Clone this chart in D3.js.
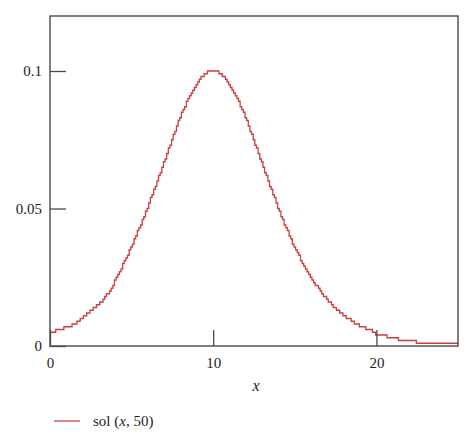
<!DOCTYPE html>
<html>
<head>
<meta charset="utf-8">
<script src="https://cdn.jsdelivr.net/npm/d3@7"></script>
<style>
  html, body { margin: 0; padding: 0; background: #fff; }
  svg text { font-family: "Liberation Serif", "DejaVu Serif", serif; fill: #222; }
</style>
</head>
<body>
<svg id="chart" width="474" height="447"></svg>
<script>
const xStart = 0;
const xStep = 0.1;
const solValues = [
  // x = 0.0 .. 10.0
  0.005, 0.005, 0.005, 0.005, 0.006, 0.006, 0.006, 0.006, 0.006, 0.007,
  0.007, 0.007, 0.007, 0.007, 0.008, 0.008, 0.008, 0.009, 0.009, 0.010,
  0.010, 0.011, 0.011, 0.012, 0.012, 0.013, 0.013, 0.014, 0.014, 0.015,
  0.015, 0.016, 0.016, 0.017, 0.018, 0.019, 0.019, 0.020, 0.021, 0.022,
  0.024, 0.025, 0.026, 0.027, 0.028, 0.030, 0.031, 0.032, 0.033, 0.035,
  0.036, 0.037, 0.039, 0.040, 0.042, 0.043, 0.044, 0.046, 0.047, 0.049,
  0.050, 0.052, 0.054, 0.055, 0.057, 0.058, 0.060, 0.062, 0.063, 0.065,
  0.067, 0.068, 0.070, 0.072, 0.073, 0.075, 0.077, 0.078, 0.080, 0.082,
  0.083, 0.085, 0.086, 0.087, 0.089, 0.090, 0.091, 0.092, 0.093, 0.094,
  0.095, 0.096, 0.097, 0.098, 0.098, 0.099, 0.099, 0.100, 0.100, 0.100,
  0.100,
  // x = 10.1 .. 20.0
  0.100, 0.100, 0.100, 0.099, 0.099, 0.098, 0.098, 0.097, 0.096, 0.095,
  0.094, 0.093, 0.092, 0.091, 0.090, 0.089, 0.087, 0.086, 0.085, 0.083,
  0.082, 0.080, 0.078, 0.077, 0.075, 0.073, 0.072, 0.070, 0.068, 0.067,
  0.065, 0.063, 0.062, 0.060, 0.058, 0.057, 0.055, 0.054, 0.052, 0.050,
  0.049, 0.047, 0.046, 0.044, 0.043, 0.042, 0.040, 0.039, 0.037, 0.036,
  0.035, 0.034, 0.033, 0.031, 0.030, 0.029, 0.028, 0.027, 0.026, 0.025,
  0.024, 0.023, 0.022, 0.022, 0.021, 0.020, 0.019, 0.018, 0.018, 0.017,
  0.016, 0.016, 0.015, 0.014, 0.014, 0.013, 0.013, 0.012, 0.012, 0.011,
  0.011, 0.010, 0.010, 0.010, 0.009, 0.009, 0.008, 0.008, 0.008, 0.007,
  0.007, 0.007, 0.007, 0.006, 0.006, 0.006, 0.006, 0.005, 0.005, 0.004,
  // x = 20.1 .. 25.0
  0.004, 0.004, 0.004, 0.004, 0.004, 0.004, 0.003, 0.003, 0.003, 0.003,
  0.003, 0.003, 0.003, 0.002, 0.002, 0.002, 0.002, 0.002, 0.002, 0.002,
  0.002, 0.002, 0.002, 0.002, 0.001, 0.001, 0.001, 0.001, 0.001, 0.001,
  0.001, 0.001, 0.001, 0.001, 0.001, 0.001, 0.001, 0.001, 0.001, 0.001,
  0.001, 0.001, 0.001, 0.001, 0.001, 0.001, 0.001, 0.001, 0.001, 0.001
];
const xTicks = [0, 10, 20];
const yTicks = [0, 0.05, 0.1];
const yTickLabels = ["0", "0.05", "0.1"];
const xDomain = [0, 25];
const yDomain = [0, 0.12];

// ---- layout ----
const plot = { left: 50, right: 458, top: 16, bottom: 346 };
const lineColor = "#c8403f";
const axisColor = "#4a4a4a";

const svg = d3.select("#chart");
const x = d3.scaleLinear().domain(xDomain).range([plot.left, plot.right]);
const y = d3.scaleLinear().domain(yDomain).range([plot.bottom, plot.top]);

const points = solValues.map((v, i) => ({ x: xStart + i * xStep, y: v }));

// curve
const line = d3.line()
  .x(d => x(d.x))
  .y(d => y(d.y))
  .curve(d3.curveStep);

svg.append("path")
  .datum(points)
  .attr("fill", "none")
  .attr("stroke", lineColor)
  .attr("stroke-width", 1.3)
  .attr("stroke-linejoin", "miter")
  .attr("d", line);

// axes
const yAxis = d3.axisLeft(y)
  .tickValues(yTicks)
  .tickFormat((d, i) => yTickLabels[i])
  .tickSize(-16)
  .tickPadding(8);

const gy = svg.append("g")
  .attr("transform", `translate(${plot.left},0)`)
  .call(yAxis);

const xAxis = d3.axisBottom(x)
  .tickValues(xTicks)
  .tickFormat(d3.format("d"))
  .tickSize(-16)
  .tickPadding(11);

const gx = svg.append("g")
  .attr("transform", `translate(0,${plot.bottom})`)
  .call(xAxis);

[gx, gy].forEach(g => {
  g.select(".domain").remove();
  g.selectAll(".tick line").attr("stroke", axisColor).attr("stroke-width", 1.3);
  g.selectAll(".tick text")
    .style("font-family", '"Liberation Serif", "DejaVu Serif", serif')
    .style("font-size", "15px")
    .attr("fill", "#222");
});

// frame
svg.append("rect")
  .attr("x", plot.left)
  .attr("y", plot.top)
  .attr("width", plot.right - plot.left)
  .attr("height", plot.bottom - plot.top)
  .attr("fill", "none")
  .attr("stroke", axisColor)
  .attr("stroke-width", 1.4);

// x axis title
svg.append("text")
  .attr("x", (plot.left + plot.right) / 2 + 2)
  .attr("y", 391)
  .attr("text-anchor", "middle")
  .style("font-size", "16px")
  .style("font-style", "italic")
  .text("x");

// legend
svg.append("line")
  .attr("x1", 54).attr("x2", 80)
  .attr("y1", 421).attr("y2", 421)
  .attr("stroke", lineColor)
  .attr("stroke-width", 1.3);

const lt = svg.append("text")
  .attr("x", 93)
  .attr("y", 426)
  .style("font-size", "15px");
lt.append("tspan").text("sol (");
lt.append("tspan").style("font-style", "italic").text("x");
lt.append("tspan").text(", 50)");
</script>
</body>
</html>
